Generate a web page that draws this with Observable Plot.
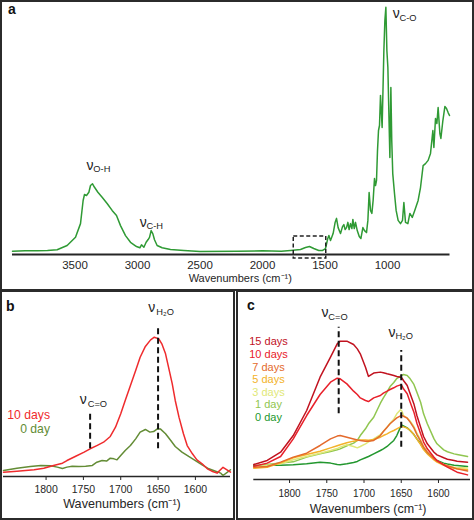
<!DOCTYPE html>
<html><head><meta charset="utf-8">
<script src="https://cdn.jsdelivr.net/npm/d3@7"></script>
<script src="https://cdn.jsdelivr.net/npm/@observablehq/plot@0.6"></script>
<style>
body{margin:0;background:#fff;}
#fig{position:relative;width:474px;height:520px;overflow:hidden;background:#fff;font-family:"Liberation Sans",Arial,Helvetica,sans-serif;}
.panel{position:absolute;}
.panel svg{display:block;overflow:visible;}
.frame{position:absolute;box-sizing:border-box;border:2px solid #2b2b2b;pointer-events:none;}
.letter{position:absolute;font-weight:bold;font-size:14px;line-height:14px;color:#111;}
.legend{position:absolute;}
.legend div{white-space:nowrap;}
</style></head>
<body>
<div id="fig">
  <div class="panel" id="pa" style="left:0;top:0;"></div>
  <div class="panel" id="pb" style="left:0;top:290px;"></div>
  <div class="panel" id="pc" style="left:236px;top:290px;"></div>
  <div class="frame" style="left:0;top:0;width:474px;height:291px"></div>
  <div class="frame" style="left:0;top:290px;width:235px;height:230px"></div>
  <div class="frame" style="left:236px;top:290px;width:238px;height:230px"></div>
  <div class="letter" style="left:8px;top:2px">a</div>
  <div class="letter" style="left:6px;top:299px">b</div>
  <div class="letter" style="left:247px;top:298px">c</div>
  <div class="legend" id="legB" style="left:0;top:407.6px;width:50px;text-align:right;font-size:12.2px;line-height:14.2px"></div>
  <div class="legend" id="legC" style="left:238px;top:335.2px;width:61px;text-align:center;font-size:11px;line-height:12.65px"></div>
</div>
<script>
// ---------- Panel a: full FTIR spectrum ----------
const waveA = [4000,3900,3800,3720,3643,3563,3496,3456,3435,3424,3408,3389,3376,3360,3344,3317,3283,3243,3203,3168,3136,3096,3056,3008,2981,2968,2949,2931,2915,2904,2891,2877,2864,2843,2803,2736,2629,2500,2200,2000,1850,1776,1696,1656,1624,1590,1550,1522,1496,1478,1469,1456,1435,1419,1408,1395,1376,1360,1349,1339,1328,1317,1307,1296,1285,1277,1266,1256,1242,1226,1213,1197,1184,1168,1157,1147,1136,1125,1115,1104,1096,1088,1080,1072,1064,1056,1043,1029,1021,1013,1005,997,989,981,973,966,958,944,931,915,896,880,869,856,837,821,802,782,755,736,715,696,675,656,637,629,616,605,595,581,573,557,541,528,515,504];
const absA = [0.013,0.015,0.015,0.016,0.019,0.036,0.069,0.124,0.217,0.241,0.237,0.250,0.277,0.284,0.270,0.250,0.230,0.205,0.177,0.157,0.116,0.076,0.049,0.032,0.027,0.039,0.029,0.049,0.060,0.069,0.096,0.083,0.059,0.036,0.027,0.020,0.016,0.012,0.013,0.015,0.013,0.016,0.020,0.028,0.032,0.024,0.016,0.016,0.024,0.064,0.076,0.056,0.084,0.129,0.145,0.108,0.084,0.112,0.120,0.100,0.108,0.129,0.100,0.124,0.104,0.141,0.104,0.129,0.096,0.072,0.064,0.108,0.096,0.088,0.137,0.249,0.177,0.165,0.217,0.305,0.277,0.297,0.418,0.498,0.518,0.639,0.510,0.819,0.940,0.993,0.819,0.751,0.566,0.390,0.671,0.458,0.325,0.245,0.177,0.137,0.124,0.137,0.209,0.129,0.124,0.165,0.149,0.177,0.217,0.269,0.357,0.365,0.378,0.406,0.498,0.430,0.546,0.526,0.590,0.486,0.466,0.538,0.594,0.586,0.570,0.558];
const ticksA = [3500,3000,2500,2000,1500,1000];
const labelsA = [
  {w:3408, v:0.357, sub:"O-H"},
  {w:2982, v:0.129, sub:"C-H"},
  {w:958,  v:0.967, sub:"C-O"}
];
const zoomBoxA = [{from:1750, to:1490, low:-0.016, high:0.072}];

// ---------- Panel b: 0 day vs 10 days ----------
const waveB10 = [1857,1839,1816,1803,1790,1778,1772,1761,1749,1741,1732,1723,1714,1707,1700,1694,1687,1680,1674,1667,1660,1655,1649,1645,1640,1636,1631,1627,1622,1616,1611,1604,1598,1591,1584,1578,1571,1563,1553];
const absB10 = [0.031,0.038,0.048,0.059,0.079,0.095,0.114,0.143,0.174,0.198,0.221,0.245,0.286,0.352,0.448,0.543,0.650,0.757,0.852,0.929,0.976,0.995,0.983,0.948,0.876,0.781,0.662,0.543,0.424,0.305,0.221,0.162,0.119,0.091,0.055,0.038,0.024,0.066,0.031];
const waveB0 = [1857,1839,1821,1807,1794,1785,1778,1772,1765,1756,1747,1738,1732,1725,1719,1714,1709,1705,1700,1694,1687,1680,1674,1667,1661,1656,1651,1647,1640,1633,1627,1618,1609,1600,1591,1582,1573,1566,1563,1557,1553];
const absB0 = [0.043,0.059,0.071,0.079,0.076,0.067,0.057,0.067,0.074,0.071,0.074,0.079,0.102,0.114,0.110,0.131,0.126,0.119,0.150,0.186,0.221,0.269,0.317,0.336,0.317,0.321,0.340,0.340,0.305,0.257,0.214,0.174,0.143,0.114,0.083,0.055,0.038,0.024,0.007,0.031,0.048];
const ticksB = [1800,1750,1700,1650,1600];
const seriesB = ["10 days","0 day"];
const colorsB = ["#ef2b2d","#638c35"];
const labelsB = [
  {w:1663, v:1.207, sub:"H\u2082O"},
  {w:1755, v:0.551, sub:"C=O"}
];
const dashesB = [
  {w:1650, from:0.198, to:1.066},
  {w:1741, from:0.198, to:0.448}
];

// ---------- Panel c: time series ----------
const waveC = [1848,1830,1812,1795,1777,1759,1745,1736,1732,1723,1714,1709,1705,1698,1694,1687,1678,1674,1669,1665,1660,1656,1651,1649,1647,1642,1638,1633,1629,1624,1620,1615,1606,1602,1593,1588,1579,1575,1561];
const c15 = [0.107,0.136,0.195,0.314,0.493,0.731,0.874,0.969,0.988,0.988,0.964,0.933,0.898,0.802,0.736,0.760,0.767,0.762,0.755,0.750,0.743,0.736,0.731,0.724,0.707,0.671,0.612,0.540,0.457,0.374,0.307,0.255,0.195,0.176,0.155,0.145,0.136,0.131,0.124];
const c10 = [0.095,0.117,0.164,0.290,0.457,0.607,0.695,0.724,0.719,0.683,0.631,0.607,0.583,0.564,0.557,0.583,0.600,0.617,0.631,0.643,0.655,0.667,0.676,0.669,0.648,0.612,0.552,0.481,0.402,0.326,0.267,0.219,0.159,0.136,0.105,0.088,0.064,0.052,0.033];
const c7 = [0.088,0.093,0.124,0.160,0.188,0.243,0.290,0.310,0.314,0.302,0.290,0.283,0.279,0.274,0.274,0.279,0.314,0.343,0.374,0.398,0.421,0.440,0.455,0.457,0.452,0.438,0.410,0.369,0.321,0.274,0.231,0.195,0.148,0.131,0.107,0.098,0.083,0.076,0.060];
const c5 = [0.081,0.088,0.119,0.155,0.179,0.202,0.226,0.241,0.248,0.262,0.274,0.279,0.283,0.283,0.281,0.286,0.302,0.314,0.326,0.338,0.350,0.362,0.376,0.379,0.376,0.367,0.350,0.321,0.288,0.250,0.214,0.183,0.140,0.124,0.102,0.093,0.081,0.076,0.069];
const c3 = [0.088,0.102,0.112,0.141,0.164,0.188,0.207,0.221,0.231,0.248,0.236,0.226,0.236,0.255,0.269,0.290,0.321,0.345,0.374,0.402,0.431,0.469,0.498,0.488,0.457,0.440,0.417,0.379,0.331,0.283,0.236,0.200,0.150,0.131,0.107,0.098,0.088,0.086,0.083];
const c1 = [0.093,0.107,0.117,0.126,0.160,0.183,0.200,0.212,0.219,0.241,0.260,0.279,0.314,0.362,0.398,0.445,0.545,0.583,0.626,0.664,0.693,0.721,0.738,0.745,0.750,0.743,0.719,0.679,0.624,0.552,0.469,0.398,0.290,0.255,0.212,0.198,0.183,0.179,0.164];
const c0 = [0.100,0.102,0.102,0.105,0.112,0.124,0.117,0.107,0.105,0.112,0.121,0.129,0.140,0.155,0.164,0.183,0.207,0.219,0.236,0.255,0.279,0.314,0.374,0.388,0.383,0.369,0.350,0.321,0.290,0.255,0.219,0.188,0.148,0.136,0.117,0.110,0.102,0.100,0.093];
const seriesC = ["15 days","10 days","7 days","5 days","3 days","1 day","0 day"];
const colorsC = ["#c1121f","#e8202a","#e46a2c","#f3b229","#dfe878","#90c650","#23972f"];
const valuesC = [c15,c10,c7,c5,c3,c1,c0];
const ticksC = [1800,1750,1700,1650,1600];
const labelsC = [
  {w:1757, v:1.191, sub:"C=O"},
  {w:1667, v:1.049, sub:"H\u2082O"}
];
const dashesC = [
  {w:1734, from:0.469, to:1.088},
  {w:1650, from:0.231, to:0.921}
];

const titleText = "Wavenumbers (cm\u207B\u00B9)";
const FONT = "'Liberation Sans', Arial, Helvetica, sans-serif";
const INK = "#262626";

function axisMarks(o) {
  return [
    Plot.axisX({ticks: o.ticks, tickFormat: d => String(d), tickSize: o.tickSize, tickPadding: o.tickPadding,
                fontSize: o.fontSize, color: INK, label: null}),
    Plot.ruleY([0], {stroke: INK, strokeWidth: o.ruleWidth}),
    Plot.text([titleText], {text: d => d, frameAnchor: "bottom", lineAnchor: "top",
                dy: o.titleDy, dx: o.titleDx, fontSize: o.titleSize, fill: INK})
  ];
}
function nuMarks(rows, subDx, subDy) {
  return [
    Plot.text(rows, {x: "w", y: "v", text: () => "\u03BD", textAnchor: "start", lineAnchor: "middle", fontSize: 14, fill: "#222"}),
    Plot.text(rows, {x: "w", y: "v", text: "sub", textAnchor: "start", lineAnchor: "middle", fontSize: 9.3, dx: subDx, dy: subDy, fill: "#222"})
  ];
}
function dashMarks(rows) {
  return Plot.ruleX(rows, {x: "w", y1: "from", y2: "to", stroke: "#111", strokeWidth: 2, strokeDasharray: "6,3.5"});
}

const spectrumA = waveA.map((w, i) => ({w, v: absA[i]}));
const plotA = Plot.plot({
  width: 474, height: 291,
  marginLeft: 12, marginRight: 24.5, marginTop: 5, marginBottom: 37,
  x: {domain: [4000, 500]},
  y: {domain: [0, 1], axis: null},
  style: {fontFamily: FONT, background: "transparent", overflow: "visible"},
  marks: [
    ...axisMarks({ticks: ticksA, tickSize: 0, tickPadding: 6, fontSize: 11.5, ruleWidth: 2,
                  titleDy: 20, titleDx: 9, titleSize: 11}),
    Plot.line(spectrumA, {x: "w", y: "v", stroke: "#2f9a34", strokeWidth: 1.5}),
    Plot.rect(zoomBoxA, {x1: "from", x2: "to", y1: "low", y2: "high", fill: "none", stroke: "#222", strokeWidth: 1.5, strokeDasharray: "4,2.5"}),
    ...nuMarks(labelsA, 6.8, 3.8)
  ]
});
document.getElementById("pa").append(plotA);

const dataB10 = waveB10.map((w, i) => ({w, v: absB10[i]}));
const dataB0 = waveB0.map((w, i) => ({w, v: absB0[i]}));
const plotB = Plot.plot({
  width: 235, height: 230,
  marginLeft: 3, marginRight: 5, marginTop: 46, marginBottom: 44,
  x: {domain: [1857, 1553]},
  y: {domain: [0, 1], axis: null},
  style: {fontFamily: FONT, background: "transparent", overflow: "visible"},
  marks: [
    ...axisMarks({ticks: ticksB, tickSize: 4, tickPadding: 5, fontSize: 10.5, ruleWidth: 1.6,
                  titleDy: 22.5, titleDx: 5, titleSize: 12.6}),
    Plot.line(dataB0, {x: "w", y: "v", stroke: colorsB[1], strokeWidth: 1.5}),
    Plot.line(dataB10, {x: "w", y: "v", stroke: colorsB[0], strokeWidth: 1.5}),
    dashMarks(dashesB),
    ...nuMarks(labelsB, 8, 4.3)
  ]
});
document.getElementById("pb").append(plotB);

const dataC = [];
seriesC.forEach((s, k) => waveC.forEach((w, i) => dataC.push({s, w, v: valuesC[k][i]})));
const plotC = Plot.plot({
  width: 238, height: 230,
  marginLeft: 17.3, marginRight: 4, marginTop: 49, marginBottom: 41,
  x: {domain: [1848, 1557]},
  y: {domain: [0, 1], axis: null},
  color: {domain: seriesC, range: colorsC},
  style: {fontFamily: FONT, background: "transparent", overflow: "visible"},
  marks: [
    ...axisMarks({ticks: ticksC, tickSize: 4, tickPadding: 6, fontSize: 10, ruleWidth: 1.6,
                  titleDy: 24.5, titleDx: 6, titleSize: 12.5}),
    Plot.line(dataC.slice().reverse(), {x: "w", y: "v", z: "s", stroke: "s", strokeWidth: 1.5}),
    dashMarks(dashesC),
    ...nuMarks(labelsC, 6.8, 3.8)
  ]
});
document.getElementById("pc").append(plotC);

// Legends (text only, coloured like the series)
function fillLegend(id, names, colors) {
  const el = document.getElementById(id);
  names.forEach((n, i) => {
    const d = document.createElement("div");
    d.textContent = n;
    d.style.color = colors[i];
    el.append(d);
  });
}
fillLegend("legB", seriesB, colorsB);
fillLegend("legC", seriesC, colorsC);
</script>
</body></html>
